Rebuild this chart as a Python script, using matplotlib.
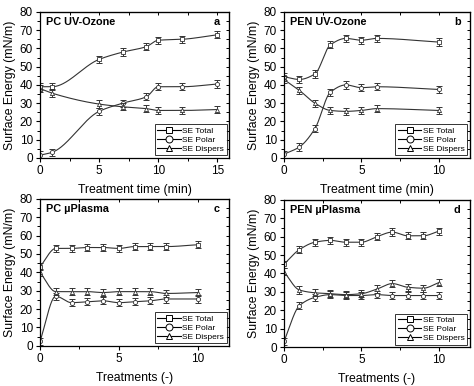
import numpy as np
import matplotlib
matplotlib.use("Agg")
import matplotlib.pyplot as plt
from matplotlib.ticker import MultipleLocator

plt.rcParams['font.family'] = ['Liberation Sans', 'DejaVu Sans']

# ---- data ----
a_x = [0, 1, 5, 7, 9, 10, 12, 15]
a_total = [39, 39, 54, 58, 61, 64.5, 65, 67.5]
a_polar = [1.5, 3, 25.5, 30, 33.5, 39, 39, 40.5]
a_disp = [38, 35.5, 29.5, 28, 27, 26, 26, 26.5]

b_x = [0, 1, 2, 3, 4, 5, 6, 10]
b_total = [44.5, 43, 46, 62, 65.5, 64.5, 65.5, 63.5]
b_polar = [2, 6, 16, 36, 40, 38.5, 39, 37.5]
b_disp = [43, 37, 30, 26, 25.5, 26, 27, 26]

c_x = [0, 1, 2, 3, 4, 5, 6, 7, 8, 10]
c_total = [43, 53, 53, 53.5, 53.5, 53, 54, 54, 54, 55]
c_polar = [2.5, 27, 23.5, 24, 24.5, 23.5, 24, 24.5, 25.5, 25.5]
c_disp = [40, 29.5, 29.5, 29.5, 29, 29.5, 29.5, 29.5, 28.5, 29]

d_x = [0, 1, 2, 3, 4, 5, 6, 7, 8, 9, 10]
d_total = [45, 53, 57, 58, 57, 57, 60, 62.5, 60.5, 60.5, 63]
d_polar = [3, 22.5, 27, 28.5, 28, 28, 28.5, 28, 28, 28, 28]
d_disp = [41, 31, 29.5, 29, 28.5, 29, 31.5, 34.5, 32.5, 32, 35]

err = 2.0

panels = [
    dict(x=a_x, t=a_total, p=a_polar, d=a_disp, title="PC UV-Ozone", letter="a",
         xlabel="Treatment time (min)", xmax=16),
    dict(x=b_x, t=b_total, p=b_polar, d=b_disp, title="PEN UV-Ozone", letter="b",
         xlabel="Treatment time (min)", xmax=12),
    dict(x=c_x, t=c_total, p=c_polar, d=c_disp, title="PC \u00b5Plasma", letter="c",
         xlabel="Treatments (-)", xmax=12),
    dict(x=d_x, t=d_total, p=d_polar, d=d_disp, title="PEN \u00b5Plasma", letter="d",
         xlabel="Treatments (-)", xmax=12),
]

positions = [
    [0.0844, 0.591, 0.399, 0.378],
    [0.599, 0.591, 0.392, 0.378],
    [0.0844, 0.104, 0.399, 0.381],
    [0.599, 0.101, 0.392, 0.381],
]


def pchip(x, y, n=300):
    x = np.asarray(x, float)
    y = np.asarray(y, float)
    h = np.diff(x)
    delta = np.diff(y) / h
    m = np.zeros_like(y)
    for k in range(1, len(x) - 1):
        if delta[k - 1] * delta[k] <= 0:
            m[k] = 0
        else:
            w1 = 2 * h[k] + h[k - 1]
            w2 = h[k] + 2 * h[k - 1]
            m[k] = (w1 + w2) / (w1 / delta[k - 1] + w2 / delta[k])
    m[0] = delta[0]
    m[-1] = delta[-1]
    xs = np.linspace(x[0], x[-1], n)
    idx = np.clip(np.searchsorted(x, xs) - 1, 0, len(x) - 2)
    t = (xs - x[idx]) / h[idx]
    h00 = 2 * t**3 - 3 * t**2 + 1
    h10 = t**3 - 2 * t**2 + t
    h01 = -2 * t**3 + 3 * t**2
    h11 = t**3 - t**2
    ys = h00 * y[idx] + h10 * h[idx] * m[idx] + h01 * y[idx + 1] + h11 * h[idx] * m[idx + 1]
    return xs, ys


fig = plt.figure(figsize=(4.74, 3.86), dpi=100)
lc = '#333333'
for pos, pn in zip(positions, panels):
    ax = fig.add_axes(pos)
    handles = []
    for key, mk, lab in [('t', 's', 'SE Total'), ('p', 'o', 'SE Polar'), ('d', '^', 'SE Dispers')]:
        xs, ys = pchip(pn['x'], pn[key])
        ax.plot(xs, ys, color=lc, lw=0.8)
        ax.errorbar(pn['x'], pn[key], yerr=err, fmt='none', ecolor=lc, elinewidth=0.7,
                    capsize=2.2, capthick=0.7)
        ax.plot(pn['x'], pn[key], ls='none', marker=mk, ms=3, mfc='white', mec=lc, mew=0.6)
        h, = ax.plot([], [], color='black', lw=0.8, marker=mk, ms=5, mfc='white', mec='black', mew=0.7,
                     label=lab)
        handles.append(h)
    ax.set_xlim(0, pn['xmax'])
    ax.set_ylim(0, 80)
    ax.xaxis.set_major_locator(MultipleLocator(5))
    ax.xaxis.set_minor_locator(MultipleLocator(2.5))
    ax.yaxis.set_major_locator(MultipleLocator(10))
    ax.yaxis.set_minor_locator(MultipleLocator(5))
    ax.tick_params(which='major', direction='out', length=3, width=0.8, labelsize=8.5, pad=2)
    ax.tick_params(which='minor', direction='out', length=2, width=0.7)
    for s in ax.spines.values():
        s.set_linewidth(0.9)
    sy = ax.secondary_yaxis('right')
    sy.yaxis.set_major_locator(MultipleLocator(5))
    sy.tick_params(direction='in', length=2.5, width=0.7, labelright=False)
    sx = ax.secondary_xaxis('top')
    sx.xaxis.set_major_locator(MultipleLocator(2.5))
    sx.tick_params(direction='in', length=2.5, width=0.7, labeltop=False)
    ax.set_xlabel(pn['xlabel'], fontsize=8.8, labelpad=5)
    ax.set_ylabel("Surface Energy (mN/m)", fontsize=8.8, labelpad=3)
    ax.text(0.03, 0.965, pn['title'], transform=ax.transAxes, fontsize=7.8, fontweight='bold',
            va='top', ha='left')
    ax.text(0.95, 0.965, pn['letter'], transform=ax.transAxes, fontsize=7.8, fontweight='bold',
            va='top', ha='right')
    leg = ax.legend(handles=handles, loc='lower right', fontsize=6, frameon=True, fancybox=False,
                    edgecolor='black', borderpad=0.3, labelspacing=0.15, handlelength=2.8,
                    handletextpad=0.2, borderaxespad=0.3)
    leg.get_frame().set_linewidth(0.7)

fig.savefig("out.png", dpi=100)
